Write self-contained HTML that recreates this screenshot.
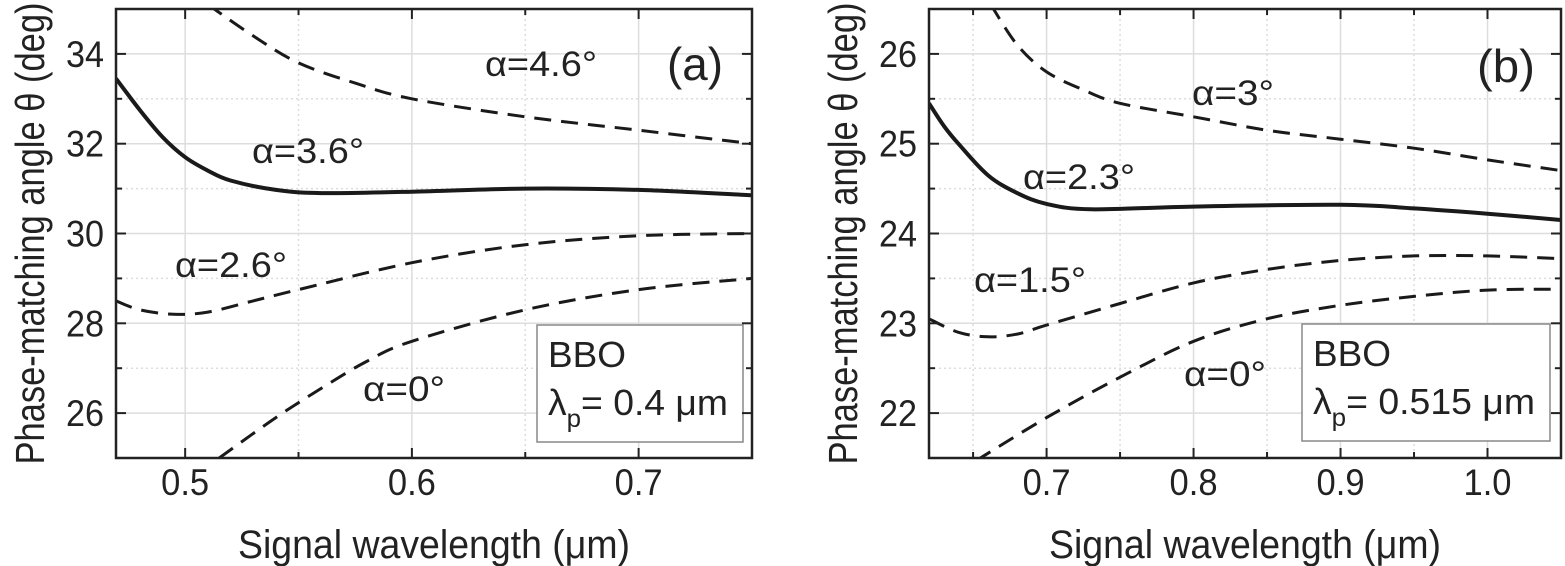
<!DOCTYPE html>
<html><head><meta charset="utf-8"><style>
body{margin:0;background:#fff}
svg{display:block}
text{font-family:"Liberation Sans",sans-serif;fill:#222}
</style></head><body>
<svg id="s" width="1565" height="566" xmlns="http://www.w3.org/2000/svg"></svg>
<script>
const S=document.getElementById('s');const NS='http://www.w3.org/2000/svg';
function el(t,a,txt){const e=document.createElementNS(NS,t);for(const k in a)e.setAttribute(k,a[k]);if(txt!=null)e.textContent=txt;S.appendChild(e);return e;}
function smooth(pts){let d='M'+pts[0][0].toFixed(1)+' '+pts[0][1].toFixed(1);
 for(let i=0;i<pts.length-1;i++){const p0=pts[i-1]||pts[i],p1=pts[i],p2=pts[i+1],p3=pts[i+2]||p2;
  const c1=[p1[0]+(p2[0]-p0[0])/6,p1[1]+(p2[1]-p0[1])/6],c2=[p2[0]-(p3[0]-p1[0])/6,p2[1]-(p3[1]-p1[1])/6];
  d+=` C${c1[0].toFixed(1)} ${c1[1].toFixed(1)} ${c2[0].toFixed(1)} ${c2[1].toFixed(1)} ${p2[0].toFixed(1)} ${p2[1].toFixed(1)}`;}
 return d;}
function panel(P){
 const X=v=>P.L+(v-P.x0)/(P.x1-P.x0)*(P.R-P.L), Y=v=>P.B-(v-P.y0)/(P.y1-P.y0)*(P.B-P.T);
 P.xt.forEach(v=>el('line',{x1:X(v),x2:X(v),y1:P.T,y2:P.B,stroke:'#ddd','stroke-width':1.5}));
 P.xm.forEach(v=>el('line',{x1:X(v),x2:X(v),y1:P.T,y2:P.B,stroke:'#ddd','stroke-width':1.5,'stroke-dasharray':'2 3'}));
 P.yt.forEach(v=>el('line',{y1:Y(v),y2:Y(v),x1:P.L,x2:P.R,stroke:'#ddd','stroke-width':1.5}));
 P.ym.forEach(v=>el('line',{y1:Y(v),y2:Y(v),x1:P.L,x2:P.R,stroke:'#ddd','stroke-width':1.5,'stroke-dasharray':'2 3'}));
 el('clipPath',{id:'c'+P.L}).innerHTML=`<rect x="${P.L}" y="${P.T}" width="${P.R-P.L}" height="${P.B-P.T}"/>`;
 P.c.forEach(c=>{const d=smooth(c.p.map(p=>[X(p[0]),Y(p[1])]));
  el('path',{d:d,fill:'none',stroke:'#1a1a1a','stroke-width':c.s?4:3,'stroke-dasharray':c.s?'none':'17 10','stroke-linejoin':'round','clip-path':`url(#c${P.L})`});});
 el('rect',{x:P.bx[0],y:P.bx[1],width:P.bx[2],height:P.bx[3],fill:'#fff',stroke:'#888','stroke-width':1.5});
 el('rect',{x:P.L,y:P.T,width:P.R-P.L,height:P.B-P.T,fill:'none',stroke:'#222','stroke-width':2.5});
 P.xt.forEach(v=>{el('line',{x1:X(v),x2:X(v),y1:P.B,y2:P.B-10,stroke:'#222','stroke-width':2});el('line',{x1:X(v),x2:X(v),y1:P.T,y2:P.T+10,stroke:'#222','stroke-width':2});
  el('text',{x:X(v),y:495,'font-size':37,'text-anchor':'middle',textLength:48,lengthAdjust:'spacingAndGlyphs'},v.toFixed(1));});
 P.xm.forEach(v=>{el('line',{x1:X(v),x2:X(v),y1:P.B,y2:P.B-6,stroke:'#222','stroke-width':2});el('line',{x1:X(v),x2:X(v),y1:P.T,y2:P.T+6,stroke:'#222','stroke-width':2});});
 P.yt.forEach(v=>{el('line',{y1:Y(v),y2:Y(v),x1:P.L,x2:P.L+10,stroke:'#222','stroke-width':2});el('line',{y1:Y(v),y2:Y(v),x1:P.R,x2:P.R-10,stroke:'#222','stroke-width':2});
  el('text',{x:P.L-12,y:Y(v)+13,'font-size':37,'text-anchor':'end',textLength:38,lengthAdjust:'spacingAndGlyphs'},String(v));});
 P.ym.forEach(v=>{el('line',{y1:Y(v),y2:Y(v),x1:P.L,x2:P.L+6,stroke:'#222','stroke-width':2});el('line',{y1:Y(v),y2:Y(v),x1:P.R,x2:P.R-6,stroke:'#222','stroke-width':2});});
 P.lab.forEach(l=>el('text',{x:l[0],y:l[1],'font-size':l[3]||34,textLength:l[4],lengthAdjust:'spacingAndGlyphs'},l[2]));
 el('text',{x:0,y:0,'font-size':41,'text-anchor':'middle',transform:`translate(${P.L-72},${(P.T+P.B)/2})rotate(-90)`,textLength:462,lengthAdjust:'spacingAndGlyphs'},'Phase-matching angle \u03B8 (deg)');
 el('text',{x:(P.L+P.R)/2,y:558,'font-size':40,'text-anchor':'middle',textLength:392,lengthAdjust:'spacingAndGlyphs'},'Signal wavelength (\u03BCm)');
 el('text',{x:P.bx[0]+11,y:P.bx[1]+42,'font-size':36,textLength:78,lengthAdjust:'spacingAndGlyphs'},'BBO');
 const g=el('text',{x:P.bx[0]+11,y:P.bx[1]+90,'font-size':36,textLength:P.bx[2]-26,lengthAdjust:'spacingAndGlyphs'});
 g.innerHTML='\u03BB<tspan font-size="25" dy="12">p</tspan><tspan dy="-12">'+P.lam+'</tspan>';
}
panel({L:116,R:752,T:9,B:458,x0:0.4695,x1:0.75,y0:25,y1:35,
 xt:[0.5,0.6,0.7],xm:[0.55,0.65],yt:[26,28,30,32,34],ym:[27,29,31,33],
 bx:[537,325,206,117],lam:'= 0.4 \u03BCm',
 c:[{p:[[0.51,35.1],[0.53,34.4],[0.55,33.8],[0.575,33.35],[0.6,33.0],[0.65,32.6],[0.7,32.3],[0.75,32.0]]},
  {s:1,p:[[0.4695,33.45],[0.48,32.75],[0.49,32.15],[0.5,31.7],[0.51,31.4],[0.52,31.18],[0.54,30.97],[0.56,30.9],[0.6,30.93],[0.65,31.0],[0.7,30.97],[0.75,30.85]]},
  {p:[[0.4695,28.5],[0.48,28.3],[0.495,28.2],[0.51,28.25],[0.53,28.5],[0.55,28.75],[0.6,29.35],[0.65,29.75],[0.7,29.95],[0.75,30.0]]},
  {p:[[0.515,25.0],[0.54,25.9],[0.56,26.55],[0.58,27.15],[0.6,27.6],[0.65,28.3],[0.7,28.75],[0.75,29.0]]}],
 lab:[[485,76,'\u03B1=4.6\u00B0',35,112],[252,163,'\u03B1=3.6\u00B0',35,112],[175,277,'\u03B1=2.6\u00B0',35,112],[363,401,'\u03B1=0\u00B0',35,82],[667,80,'(a)',46,56]]});
panel({L:929,R:1561,T:9,B:458,x0:0.62,x1:1.05,y0:21.5,y1:26.5,
 xt:[0.7,0.8,0.9,1.0],xm:[0.65,0.75,0.85,0.95],yt:[22,23,24,25,26],ym:[22.5,23.5,24.5,25.5],
 bx:[1302,324,248,117],lam:'= 0.515 \u03BCm',
 c:[{p:[[0.662,26.55],[0.68,26.1],[0.7,25.8],[0.725,25.6],[0.75,25.45],[0.8,25.3],[0.85,25.15],[0.9,25.05],[0.95,24.95],[1.0,24.82],[1.05,24.7]]},
  {s:1,p:[[0.62,25.45],[0.63,25.2],[0.64,25.0],[0.66,24.65],[0.68,24.45],[0.7,24.33],[0.73,24.27],[0.8,24.3],[0.9,24.32],[0.95,24.28],[1.0,24.22],[1.05,24.15]]},
  {p:[[0.62,23.05],[0.64,22.9],[0.66,22.85],[0.68,22.88],[0.7,22.98],[0.75,23.22],[0.8,23.45],[0.85,23.6],[0.9,23.7],[0.95,23.75],[1.0,23.75],[1.05,23.72]]},
  {p:[[0.652,21.47],[0.7,21.95],[0.75,22.4],[0.8,22.8],[0.85,23.05],[0.9,23.2],[0.95,23.3],[1.0,23.37],[1.05,23.38]]}],
 lab:[[1192,105,'\u03B1=3\u00B0',35,82],[1023,189,'\u03B1=2.3\u00B0',35,112],[974,292,'\u03B1=1.5\u00B0',35,112],[1184,386,'\u03B1=0\u00B0',35,82],[1477,82,'(b)',46,58]]});
</script>
</body></html>
